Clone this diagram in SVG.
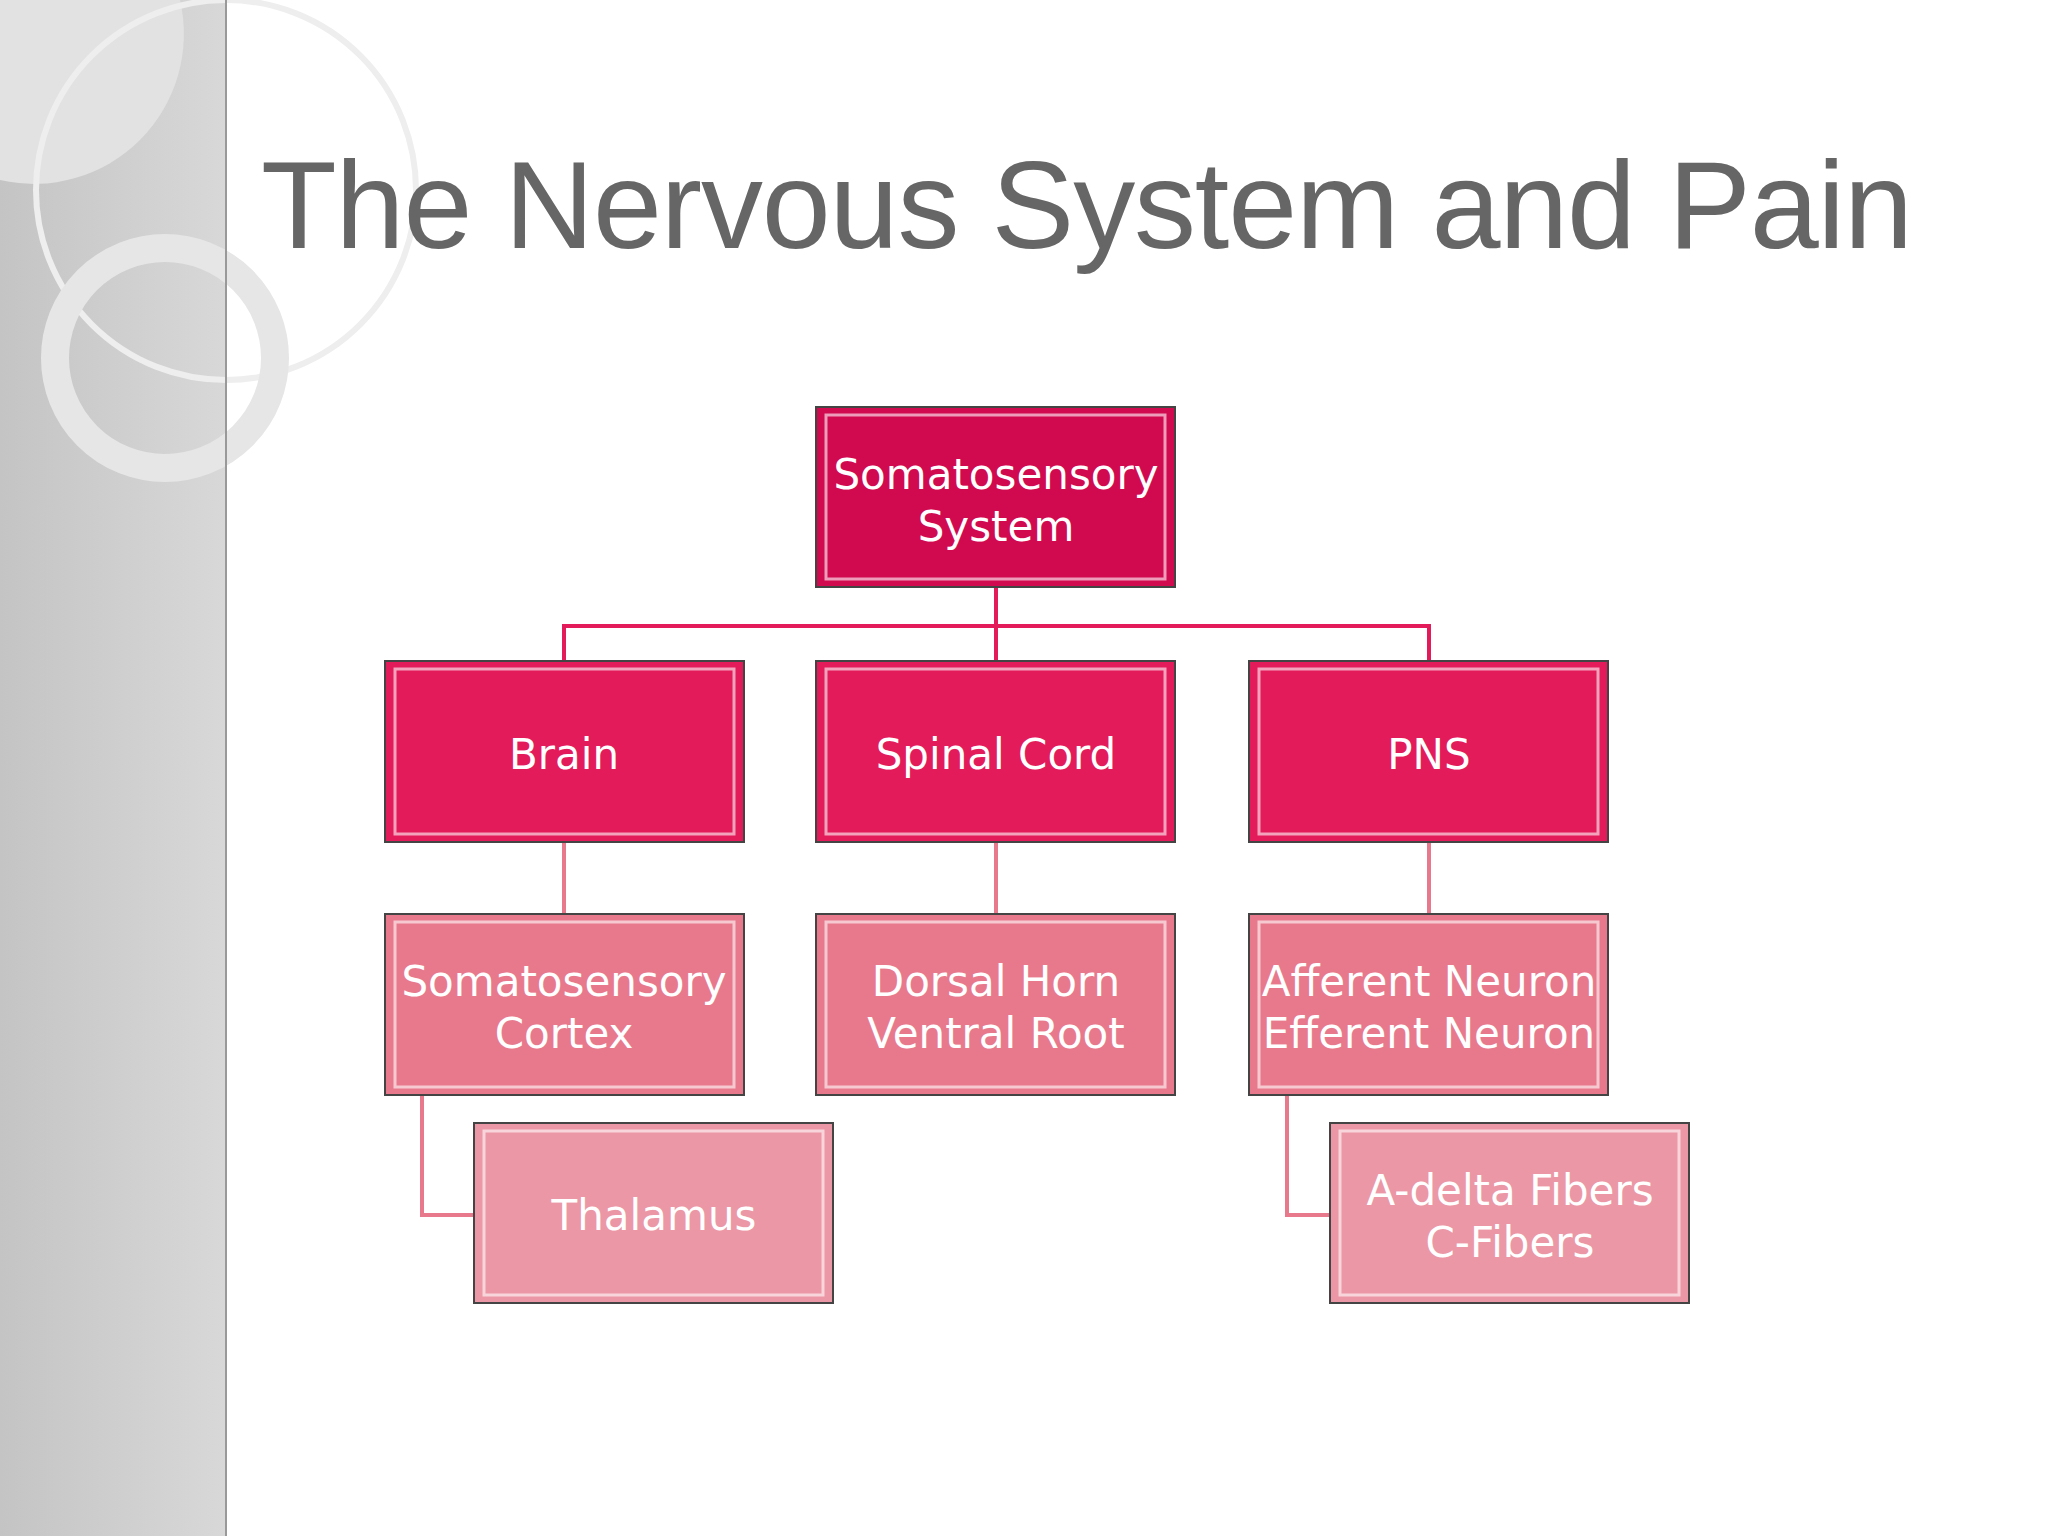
<svg xmlns="http://www.w3.org/2000/svg" width="2048" height="1536" viewBox="0 0 2048 1536">
<defs>
<style>
.b{stroke:#444;stroke-width:2}
.t{font-family:"DejaVu Sans",sans-serif;font-size:42px;fill:#fff;text-anchor:middle}
.hl{fill:none;stroke:#fff;stroke-opacity:0.6;stroke-width:3}
</style>
<linearGradient id="side" x1="0" y1="0" x2="1" y2="0"><stop offset="0" stop-color="#c4c4c4"/><stop offset="1" stop-color="#d8d8d8"/></linearGradient>
</defs>
<rect width="2048" height="1536" fill="#fff"/>
<rect x="0" y="0" width="226" height="1536" fill="url(#side)"/>
<path d="M0 0 H180 A150 150 0 0 1 0 180 Z" fill="#e2e2e2"/>
<circle cx="226" cy="190" r="190" fill="none" stroke="#eee" stroke-width="6"/>
<circle cx="165" cy="358" r="110" fill="none" stroke="#e6e6e6" stroke-width="28"/>
<line x1="226" y1="0" x2="226" y2="1536" stroke="#999" stroke-width="2"/>
<text x="261" y="248" font-family="Liberation Sans,Arial,sans-serif" font-size="124" fill="#666" textLength="1652">The Nervous System and Pain</text>
<g id="connectors" fill="none" stroke-width="4">
<path d="M996 587 V626 M564 661 V626 H1429 V661 M996 626 V661" stroke="#E31B5B"/>
<path d="M564 842 V914 M996 842 V914 M1429 842 V914" stroke="#E8788C"/>
<path d="M422 1095 V1215 H474 M1287 1095 V1215 H1330" stroke="#E8788C"/>
</g>
<g id="root"><rect class="b" x="816" y="407" width="359" height="180" fill="#D10A50"/><rect class="hl" x="826" y="415" width="339" height="164"/><text class="t" x="996" y="489">Somatosensory</text><text class="t" x="996" y="541">System</text></g>
<g id="brain"><rect class="b" x="385" y="661" width="359" height="181" fill="#E31B5B"/><rect class="hl" x="395" y="669" width="339" height="165"/><text class="t" x="564" y="769">Brain</text></g>
<g id="spinal"><rect class="b" x="816" y="661" width="359" height="181" fill="#E31B5B"/><rect class="hl" x="826" y="669" width="339" height="165"/><text class="t" x="996" y="769">Spinal Cord</text></g>
<g id="pns"><rect class="b" x="1249" y="661" width="359" height="181" fill="#E31B5B"/><rect class="hl" x="1259" y="669" width="339" height="165"/><text class="t" x="1429" y="769">PNS</text></g>
<g id="cortex"><rect class="b" x="385" y="914" width="359" height="181" fill="#E8798D"/><rect class="hl" x="395" y="922" width="339" height="165"/><text class="t" x="564" y="996">Somatosensory</text><text class="t" x="564" y="1048">Cortex</text></g>
<g id="dorsal"><rect class="b" x="816" y="914" width="359" height="181" fill="#E8798D"/><rect class="hl" x="826" y="922" width="339" height="165"/><text class="t" x="996" y="996">Dorsal Horn</text><text class="t" x="996" y="1048">Ventral Root</text></g>
<g id="afferent"><rect class="b" x="1249" y="914" width="359" height="181" fill="#E8798D"/><rect class="hl" x="1259" y="922" width="339" height="165"/><text class="t" x="1429" y="996">Afferent Neuron</text><text class="t" x="1429" y="1048">Efferent Neuron</text></g>
<g id="thalamus"><rect class="b" x="474" y="1123" width="359" height="180" fill="#EB97A5"/><rect class="hl" x="484" y="1131" width="339" height="164"/><text class="t" x="654" y="1230">Thalamus</text></g>
<g id="fibers"><rect class="b" x="1330" y="1123" width="359" height="180" fill="#EB97A5"/><rect class="hl" x="1340" y="1131" width="339" height="164"/><text class="t" x="1510" y="1205">A-delta Fibers</text><text class="t" x="1510" y="1257">C-Fibers</text></g>
</svg>
